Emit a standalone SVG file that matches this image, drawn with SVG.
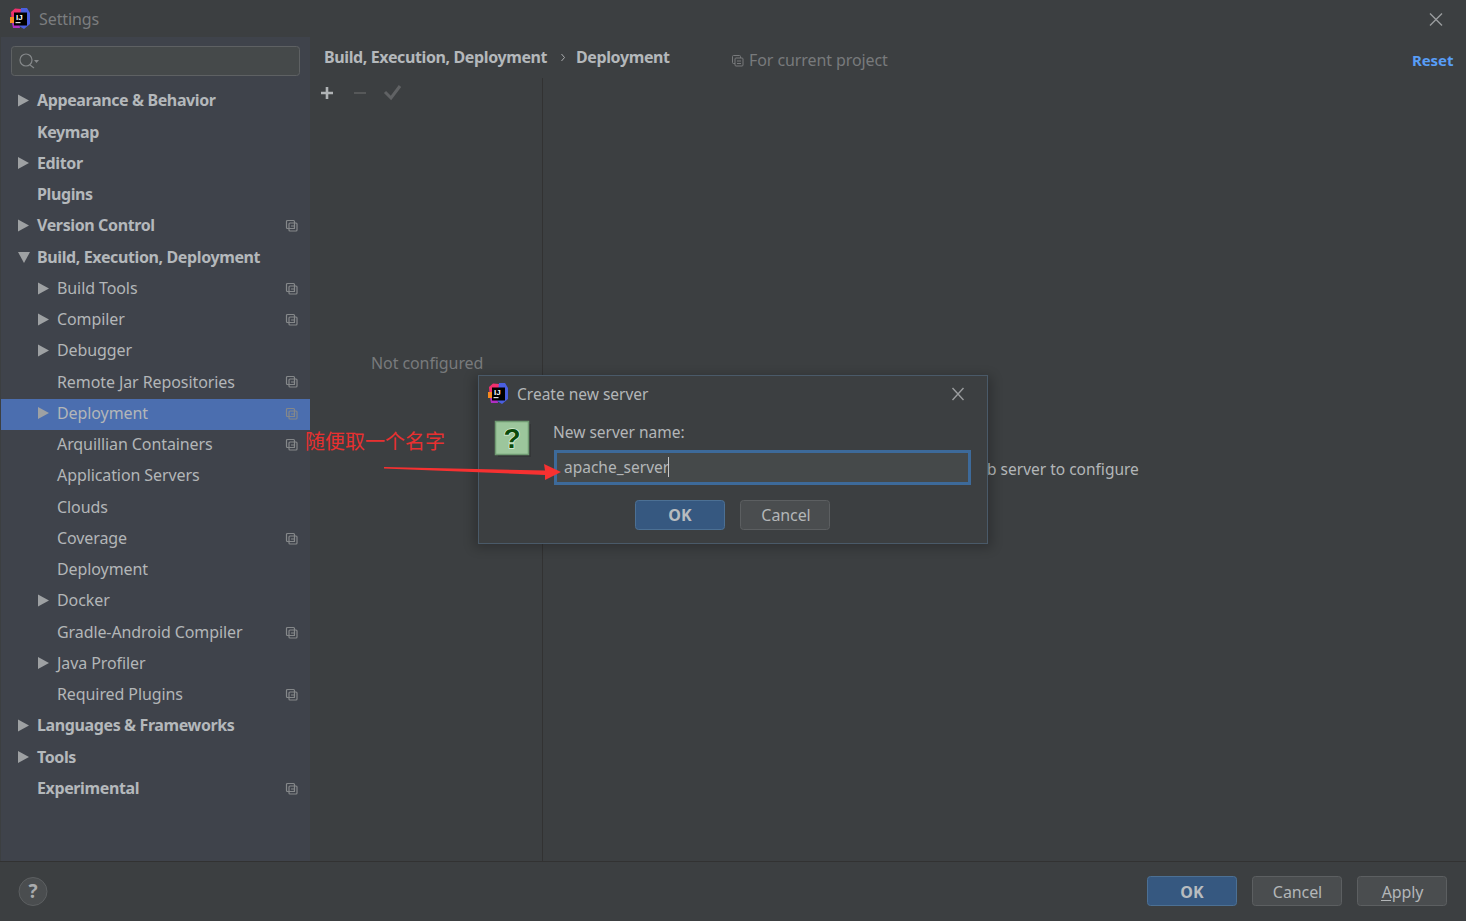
<svg xmlns="http://www.w3.org/2000/svg" xmlns:xlink="http://www.w3.org/1999/xlink" width="1466" height="921" viewBox="0 0 1466 921">
<style>
text{font-family:"Noto Sans","Open Sans","Noto Sans CJK SC",sans-serif;font-size:16px;fill:#b3b6b8;letter-spacing:-.09px}
.b{font-weight:700;fill:#b4b8bb;letter-spacing:-.38px}
.dim{fill:#787a7c}
.d{font-size:15.5px;letter-spacing:0}
.tri{fill:#9ea1a3}
.copy rect{fill:none;stroke:#85888a;stroke-width:1.2}
.btn{fill:#4a4d4f;stroke:#5c5f61;stroke-width:1}
.pri{fill:#365880;stroke:#4c7094;stroke-width:1}
.x{stroke:#9a9c9e;stroke-width:1.4;fill:none}
</style>
<defs>
<filter id="soft" x="-10%" y="-15%" width="120%" height="130%"><feGaussianBlur stdDeviation="6"/></filter>
<g id="copy" class="copy"><rect x="0.5" y="0.5" width="8" height="8" rx="1"/><rect x="3" y="3" width="8" height="8" rx="1"/><path d="M5 6h4M5 8.500h4" stroke="#85888a" fill="none"/></g>
<g id="logo"><path d="M1 3 5 -0.500 11 0 12 5 4 8 2 15z" fill="#f0306e"/><path d="M0 8H4V14H0z" fill="#f78a1f"/><path d="M11 -1 17 -1 20 4 20 15 14 20 9 17z" fill="#4a5fe0"/><path d="M2 14 9 14 10 19 3 19z" fill="#b02fc4"/><rect x="4" y="3.500" width="13" height="13" fill="#000"/><text x="6" y="11" style="font-size:8px;font-weight:700;fill:#fff;font-family:'Liberation Sans',sans-serif;letter-spacing:0">IJ</text><rect x="5.500" y="13" width="5" height="1.200" fill="#ddd"/></g>
</defs>
<rect id="bg" width="1466" height="921" fill="#3c3f41"/>
<g id="titlebar"><use xlink:href="#logo" x="10" y="9"/><text x="39" y="25" class="dim" style="fill:#7b7d7f">Settings</text><path class="x" d="M1430 13.500 1442 25.500M1442 13.500 1430 25.500"/></g>
<rect id="sidebar" x="1" y="37" width="309" height="824" fill="#3f434b"/>
<g id="search"><rect x="11.500" y="46.500" width="288" height="29" rx="3" fill="#45494a" stroke="#5e6163"/><circle cx="26" cy="60" r="6" fill="none" stroke="#85888a" stroke-width="1.200"/><path d="M30 65 34 68" stroke="#85888a" stroke-width="1.200"/><path d="M34 60h5l-2.500 3z" fill="#85888a"/></g>
<rect id="selected" x="1" y="399" width="309" height="31" fill="#4b6eaf"/>
<g id="tree">
<g id="n1"><path class="tri" d="M18 94.500 29 100.500 18 106.500z"/><text class="b" x="37" y="106">Appearance &amp; Behavior</text></g>
<g id="n2"><text class="b" x="37" y="138">Keymap</text></g>
<g id="n3"><path class="tri" d="M18 157 29 163 18 169z"/><text class="b" x="37" y="169">Editor</text></g>
<g id="n4"><text class="b" x="37" y="200">Plugins</text></g>
<g id="n5"><path class="tri" d="M18 219.500 29 225.500 18 231.500z"/><text class="b" x="37" y="231">Version Control</text><use xlink:href="#copy" x="286" y="220"/></g>
<g id="n6"><path class="tri" d="M18 252 30 252 24 263z"/><text class="b" x="37" y="263">Build, Execution, Deployment</text></g>
<g id="n7"><path class="tri" d="M38 282.500 49 288.500 38 294.500z"/><text x="57" y="294">Build Tools</text><use xlink:href="#copy" x="286" y="283"/></g>
<g id="n8"><path class="tri" d="M38 313.500 49 319.500 38 325.500z"/><text x="57" y="325">Compiler</text><use xlink:href="#copy" x="286" y="314"/></g>
<g id="n9"><path class="tri" d="M38 344.500 49 350.500 38 356.500z"/><text x="57" y="356">Debugger</text></g>
<g id="n10"><text x="57" y="388">Remote Jar Repositories</text><use xlink:href="#copy" x="286" y="376"/></g>
<g id="n11"><path class="tri" d="M38 407 49 413 38 419z"/><text x="57" y="419">Deployment</text><use xlink:href="#copy" x="286" y="408"/></g>
<g id="n12"><text x="57" y="450">Arquillian Containers</text><use xlink:href="#copy" x="286" y="439"/></g>
<g id="n13"><text x="57" y="481">Application Servers</text></g>
<g id="n14"><text x="57" y="513">Clouds</text></g>
<g id="n15"><text x="57" y="544">Coverage</text><use xlink:href="#copy" x="286" y="533"/></g>
<g id="n16"><text x="57" y="575">Deployment</text></g>
<g id="n17"><path class="tri" d="M38 594.500 49 600.500 38 606.500z"/><text x="57" y="606">Docker</text></g>
<g id="n18"><text x="57" y="638">Gradle-Android Compiler</text><use xlink:href="#copy" x="286" y="627"/></g>
<g id="n19"><path class="tri" d="M38 657 49 663 38 669z"/><text x="57" y="669">Java Profiler</text></g>
<g id="n20"><text x="57" y="700">Required Plugins</text><use xlink:href="#copy" x="286" y="689"/></g>
<g id="n21"><path class="tri" d="M18 719.500 29 725.500 18 731.500z"/><text class="b" x="37" y="731">Languages &amp; Frameworks</text></g>
<g id="n22"><path class="tri" d="M18 751 29 757 18 763z"/><text class="b" x="37" y="763">Tools</text></g>
<g id="n23"><text class="b" x="37" y="794">Experimental</text><use xlink:href="#copy" x="286" y="783"/></g>
</g>
<g id="header"><text class="b" x="324" y="63">Build, Execution, Deployment</text><path d="M561.500 54 564.500 57.500 561.500 61" fill="none" stroke="#a9abad"/><text class="b" x="576" y="63">Deployment</text><g transform="translate(732,55)"><rect x="0.500" y="0.500" width="8" height="8" rx="1" fill="none" stroke="#787a7c"/><rect x="3" y="3" width="8" height="8" rx="1" fill="#3c3f41" stroke="#787a7c"/><path d="M5 6h4M5 8.500h4" stroke="#787a7c"/></g><text x="749" y="66" class="dim">For current project</text><text x="1412" y="66" style="fill:#589df6;font-weight:700;font-size:15px">Reset</text></g>
<g id="toolbar"><path d="M327 87V99M321 93H333" stroke="#b0b3b5" stroke-width="2.600"/><path d="M354 93H366" stroke="#565859" stroke-width="2"/><path d="M385 92 391 98 400 86" fill="none" stroke="#606264" stroke-width="3"/></g>
<path id="divider" d="M542.500 78V861" stroke="#323232"/>
<text id="not-configured" x="371" y="369" class="dim">Not configured</text>
<text id="hint" x="987" y="475" class="d">b server to configure</text>
<g id="footer"><path d="M0 861.500H1466" stroke="#323232"/><circle cx="33" cy="891.500" r="14" fill="#4a4d4f" stroke="#5c5f61"/><text x="33" y="898" text-anchor="middle" style="font-size:19px;font-weight:700;fill:#a9abad">?</text>
<rect class="pri" x="1147.500" y="876.500" width="89" height="29" rx="3"/><text class="b" x="1192" y="898" text-anchor="middle" style="fill:#b8bcbf;letter-spacing:0">OK</text>
<rect class="btn" x="1252.500" y="876.500" width="89" height="29" rx="3"/><text x="1297.500" y="898" text-anchor="middle">Cancel</text>
<rect class="btn" x="1357.500" y="876.500" width="89" height="29" rx="3"/><text x="1402.500" y="898" text-anchor="middle">Apply</text><path d="M1381 900.500H1391" stroke="#b3b6b8"/></g>
<g id="dialog"><rect x="474" y="376" width="518" height="172" fill="#000" opacity="0.22" filter="url(#soft)"/><rect x="478.500" y="375.500" width="509" height="168" fill="#3c3f41" stroke="#4a5a69"/>
<use xlink:href="#logo" x="488" y="384"/><text x="517" y="400" class="d">Create new server</text><path class="x" d="M952.500 388 963.500 400M963.500 388 952.500 400"/>
<g id="question"><rect x="498" y="424" width="33" height="33" fill="#2c2e2f" opacity=".5"/><rect x="495.500" y="421.500" width="33" height="33" fill="#9cc69c" stroke="#6f9a72" stroke-width="1.500"/><text x="512" y="448" text-anchor="middle" style="font-size:28px;font-weight:700;fill:#0a4a0a;stroke:#d8f0d8;stroke-width:1.500;paint-order:stroke;font-family:'Liberation Sans',sans-serif;letter-spacing:0">?</text></g>
<text x="553" y="438" class="d">New server name:</text>
<rect x="555.500" y="451.500" width="414" height="32" fill="#45494a" stroke="#3d6a9a" stroke-width="3"/>
<text x="564" y="473" class="d">apache_server</text><path d="M668.500 457V477" stroke="#c8c8c8"/>
<rect class="pri" x="635.500" y="500.500" width="89" height="29" rx="3"/><text class="b" x="680" y="521" text-anchor="middle" style="fill:#b8bcbf;letter-spacing:0">OK</text>
<rect class="btn" x="740.500" y="500.500" width="89" height="29" rx="3"/><text x="786" y="521" text-anchor="middle">Cancel</text></g>
<g id="connectors"><path d="M384 467 545 470.500 544 464 561 472 545 480 545 475 384 468.500z" fill="#f73131"/></g>
<text id="note" x="305" y="449" style="fill:#e83030;font-size:20px;font-family:'Noto Sans CJK SC',sans-serif;letter-spacing:0">随便取一个名字</text>
</svg>
